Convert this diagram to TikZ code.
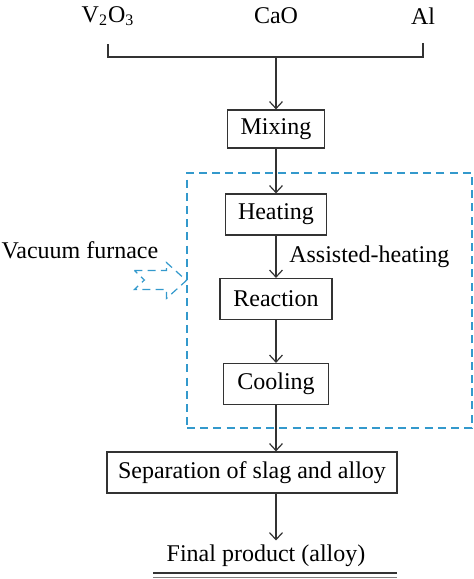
\documentclass[tikz,border=0pt]{standalone}
\usepackage{fontspec}
\setmainfont{Liberation Serif}
\usepackage{tikz}
\usetikzlibrary{positioning,arrows.meta,calc}
\definecolor{furnaceBlue}{HTML}{3399CC}
\definecolor{lineGray}{HTML}{333333}

\begin{document}
\begin{tikzpicture}[
    x=0.5pt, y=-0.5pt,
    font=\fontsize{12}{14}\selectfont,
    line width=0.6pt, draw=lineGray,
    >={Straight Barb[length=3.5pt,width=6.5pt]},
    stepbox/.style={draw=lineGray, line width=0.6pt, minimum height=20.5pt, inner sep=2pt},
    feed/.style={inner sep=1pt},
    furnace/.style={draw=furnaceBlue, dashed, dash pattern=on 4pt off 2.6pt, line width=0.6pt},
  ]
  \useasboundingbox (0,0) rectangle (474,579);
  % raw materials
  \node[feed] (v2o3) at (108,16) {V\textsubscript{2}O\textsubscript{3}};
  \node[feed] (cao)  at (276,16) {CaO};
  \node[feed] (al)   at (423,16) {Al};
  \coordinate (hub) at (276,57);
  % process steps
  \node[stepbox, minimum width=48.5pt, minimum height=19pt] (mix) at (276,129) {Mixing};
  \node[stepbox, minimum width=50.5pt] (heat)  at (276,214.5) {Heating};
  \node[stepbox, minimum width=56pt]   (react) at (276,299)   {Reaction};
  \node[stepbox, minimum width=52.5pt] (cool)  at (276,384)   {Cooling};
  \node[stepbox, minimum width=145pt]  (sep)   at (252,472.5) {Separation of slag and alloy};
  \node[inner sep=0pt] (final) at (266,556) {Final product (alloy)};
  % vacuum furnace
  \node[furnace, minimum width=142.5pt, minimum height=127.5pt] (vac) at (329.5,300.5) {};
  \node[inner sep=0pt] (vaclabel) at (80,250) {Vacuum furnace};
  \coordinate (tip) at ($(vac.west)+(0,-20)$);
  \draw[furnace] ($(tip)+(-52,-10)$) -- ++(32,0) -- ++(0,-8) -- (tip)
    -- ++(-20,18) -- ++(0,-9) -- ++(-32,0) -- ++(10,-9.5) -- cycle;
  % connectors
  \draw[shorten <=8pt] (v2o3.south) |- (hub);
  \draw[shorten <=8pt] (al.south) |- (hub);
  \draw[->] (hub) -- (mix);
  \draw[->] (mix) -- (heat);
  \draw[->] (heat) -- node[right=3pt] {Assisted-heating} (react);
  \draw[->] (react) -- (cool);
  \draw[->] (cool.south) -- (sep.north -| cool);
  \draw[->] (sep.south -| cool) -- ($(final.north -| cool)+(0,-4)$);
  % double rule under the product
  \draw[lineGray, line width=0.75pt] (153,573) -- (397,573);
  \draw[gray, line width=0.75pt] (153,577.5) -- (397,577.5);
\end{tikzpicture}
\end{document}
